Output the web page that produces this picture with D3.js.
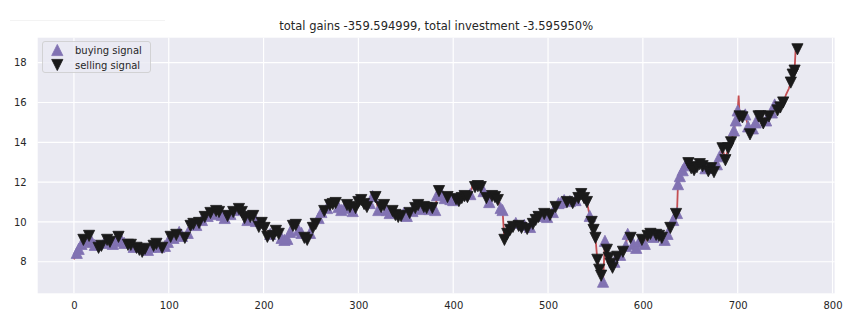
<!DOCTYPE html>
<html>
<head>
<meta charset="utf-8">
<script src="https://cdn.jsdelivr.net/npm/d3@7"></script>
<style>
  body { margin: 0; background: #fff; }
  text { font-family: "DejaVu Sans", sans-serif; fill: #262626; }
</style>
</head>
<body>
<svg id="chart"></svg>
<script>
// price samples (trading day, close)
var days = [0, 3, 5, 8, 10, 13, 16, 19, 22, 26, 29, 32, 35, 38, 41, 44, 47, 50, 53, 57,
  60, 63, 66, 69, 72, 75, 78, 81, 84, 87, 90, 93, 96, 99, 102, 105, 108, 111, 114, 117,
  120, 123, 126, 129, 132, 135, 138, 141, 144, 147, 150, 153, 156, 159, 162, 165, 168, 171, 174, 177,
  180, 183, 186, 189, 192, 195, 198, 201, 204, 207, 210, 213, 216, 219, 222, 225, 228, 231, 234, 237,
  240, 243, 246, 249, 252, 255, 258, 261, 264, 267, 270, 273, 276, 279, 282, 285, 288, 291, 294, 297,
  300, 303, 306, 309, 312, 315, 318, 321, 324, 327, 330, 333, 336, 339, 342, 345, 348, 351, 354, 357,
  360, 363, 366, 369, 372, 375, 378, 381, 383, 385, 388, 391, 394, 397, 400, 403, 406, 409, 412, 415,
  418, 421, 423, 426, 429, 432, 435, 438, 441, 444, 447, 450, 452, 454, 457, 460, 463, 466, 469, 472,
  475, 478, 481, 484, 487, 490, 493, 496, 499, 502, 505, 508, 511, 514, 517, 520, 523, 526, 529, 532,
  535, 538, 541, 544, 546, 548, 550, 552, 554, 556, 558, 560, 562, 564, 566, 568, 570, 573, 576, 579,
  582, 584, 587, 590, 593, 596, 599, 602, 605, 608, 611, 614, 617, 620, 623, 626, 629, 632, 635, 636,
  637, 639, 642, 645, 648, 651, 654, 657, 660, 663, 666, 669, 672, 675, 678, 681, 684, 687, 690, 693,
  696, 698, 700, 701, 702, 705, 708, 711, 713, 716, 719, 722, 724, 727, 730, 733, 736, 739, 742, 745,
  748, 751, 754, 756, 758, 760, 761, 763];
var close = [8.12, 8.45, 8.65, 8.9, 9.1, 9.05, 9.3, 9.0, 8.85, 8.7, 8.8, 8.95, 9.1, 9.0, 8.9, 9.05, 9.25, 9.1, 8.95, 8.85,
  8.85, 8.75, 8.7, 8.6, 8.5, 8.65, 8.6, 8.75, 8.8, 8.9, 8.75, 8.7, 8.8, 9.0, 9.25, 9.2, 9.35, 9.5, 9.3, 9.2,
  9.45, 9.8, 9.9, 9.85, 9.95, 10.1, 10.25, 10.3, 10.45, 10.4, 10.55, 10.5, 10.35, 10.2, 10.3, 10.4, 10.5, 10.6, 10.65, 10.5,
  10.2, 10.1, 10.25, 10.3, 10.05, 9.75, 9.95, 9.7, 9.25, 9.4, 9.3, 9.55, 9.4, 9.2, 9.1, 9.15, 9.5, 9.8, 9.85, 9.6,
  9.45, 9.2, 9.1, 9.45, 9.7, 9.9, 10.2, 10.5, 10.55, 10.7, 10.85, 10.9, 10.95, 10.75, 10.6, 10.7, 10.85, 10.75, 10.55, 10.7,
  11.0, 11.1, 10.9, 10.75, 10.95, 11.3, 11.25, 10.6, 10.75, 10.85, 10.6, 10.45, 10.55, 10.35, 10.25, 10.3, 10.45, 10.3, 10.45, 10.55,
  10.7, 10.85, 10.65, 10.75, 10.7, 10.65, 10.7, 10.6, 11.35, 11.55, 11.4, 11.2, 11.25, 11.15, 11.1, 11.15, 11.05, 11.2, 11.3, 11.25,
  11.4, 11.95, 11.75, 11.8, 11.75, 11.55, 11.2, 11.0, 11.3, 11.25, 11.1, 10.7, 10.6, 9.1, 9.4, 9.6, 9.75, 9.95, 9.8, 9.7,
  9.85, 9.65, 9.75, 9.9, 10.1, 10.25, 10.3, 10.4, 10.25, 10.35, 10.5, 10.75, 10.95, 11.0, 11.1, 11.0, 11.05, 10.95, 11.1, 11.2,
  11.4, 11.2, 11.0, 10.3, 10.0, 9.6, 9.2, 8.1, 7.6, 7.3, 7.0, 9.05, 8.6, 8.2, 7.9, 7.7, 8.0, 8.25, 8.35, 8.5,
  8.8, 9.4, 9.2, 8.9, 8.7, 9.0, 9.1, 8.9, 9.3, 9.4, 9.25, 9.35, 9.3, 9.2, 9.1, 9.4, 9.7, 10.1, 10.4, 10.45,
  11.9, 12.3, 12.6, 12.85, 12.95, 12.7, 12.6, 12.75, 12.9, 12.8, 12.7, 12.55, 12.7, 12.5, 12.9, 13.3, 13.7, 13.1, 13.7, 14.0,
  14.6, 15.1, 15.6, 16.35, 15.3, 15.25, 15.4, 14.8, 14.4, 14.7, 15.0, 15.3, 15.3, 14.95, 15.1, 15.3, 15.5, 15.9, 15.6, 15.75,
  16.0, 16.4, 16.7, 17.0, 17.4, 17.6, 18.6, 18.67];

// signal days
var buyDays = [3, 5, 8, 13, 19, 22, 32, 41, 44, 50, 53, 63, 78, 81, 90, 96, 99, 105, 111, 114,
  120, 129, 135, 141, 147, 156, 159, 165, 171, 183, 192, 207, 219, 222, 225, 228, 237, 240, 249, 258,
  261, 267, 279, 282, 285, 294, 312, 315, 321, 330, 333, 348, 351, 357, 366, 375, 381, 383, 388, 391,
  397, 400, 418, 432, 438, 450, 452, 466, 475, 481, 493, 499, 505, 511, 514, 517, 523, 529, 544, 558,
  560, 570, 576, 582, 584, 590, 593, 596, 602, 611, 623, 626, 632, 636, 637, 639, 642, 645, 666, 678,
  681, 696, 698, 700, 708, 711, 716, 719, 730, 736, 739];
var sellDays = [10, 16, 26, 29, 35, 38, 47, 57, 60, 66, 69, 72, 75, 84, 87, 93, 102, 108, 117, 123,
  126, 132, 138, 144, 150, 153, 162, 168, 174, 177, 180, 186, 189, 195, 198, 201, 204, 210, 213, 216,
  231, 234, 243, 246, 252, 255, 264, 270, 273, 276, 288, 291, 297, 300, 303, 306, 309, 318, 324, 327,
  336, 339, 342, 345, 354, 360, 363, 369, 372, 378, 385, 394, 403, 406, 409, 412, 415, 423, 426, 429,
  435, 441, 444, 447, 454, 457, 460, 463, 469, 472, 478, 484, 487, 490, 496, 502, 508, 520, 526, 532,
  535, 538, 541, 546, 548, 550, 552, 554, 556, 562, 564, 566, 568, 573, 579, 587, 599, 605, 608, 614,
  617, 620, 629, 635, 648, 651, 654, 657, 660, 663, 669, 672, 675, 684, 687, 690, 693, 702, 705, 713,
  722, 724, 727, 733, 742, 745, 748, 756, 758, 760, 763];

var xTicks = [0, 100, 200, 300, 400, 500, 600, 700, 800];
var yTicks = [8, 10, 12, 14, 16, 18];
var title = "total gains -359.594999, total investment -3.595950%";

var width = 861, height = 335;
var m = { left: 37.7, right: 834.6, top: 37.7, bottom: 293.3 };

var svg = d3.select("#chart").attr("width", width).attr("height", height);

var points = days.map(function (d, i) { return [d, close[i]]; });
var byDay = new Map(points);

var xExt = [0, 764];
var xPad = (xExt[1] - xExt[0]) * 0.05;
var x = d3.scaleLinear().domain([xExt[0] - xPad, xExt[1] + xPad]).range([m.left, m.right]);
var yExt = d3.extent(close);
var yPad = (yExt[1] - yExt[0]) * 0.05;
var y = d3.scaleLinear().domain([yExt[0] - yPad, yExt[1] + yPad]).range([m.bottom, m.top]);

// faint stray line above the chart
svg.append("line")
  .attr("x1", 10).attr("x2", 165).attr("y1", 20.5).attr("y2", 20.5)
  .attr("stroke", "#f3f3f3").attr("stroke-width", 1);

svg.append("rect")
  .attr("x", m.left).attr("y", m.top)
  .attr("width", m.right - m.left).attr("height", m.bottom - m.top)
  .attr("fill", "#eaeaf2");

var grid = svg.append("g").attr("stroke", "#fff").attr("stroke-width", 1.2);
grid.selectAll(".gx").data(xTicks).enter().append("line")
  .attr("x1", function (d) { return x(d); }).attr("x2", function (d) { return x(d); })
  .attr("y1", m.top).attr("y2", m.bottom);
grid.selectAll(".gy").data(yTicks).enter().append("line")
  .attr("y1", function (d) { return y(d); }).attr("y2", function (d) { return y(d); })
  .attr("x1", m.left).attr("x2", m.right);

var xAxis = svg.append("g")
  .attr("transform", "translate(0," + m.bottom + ")")
  .call(d3.axisBottom(x).tickValues(xTicks).tickSize(0).tickPadding(9));
var yAxis = svg.append("g")
  .attr("transform", "translate(" + m.left + ",0)")
  .call(d3.axisLeft(y).tickValues(yTicks).tickSize(0).tickPadding(11));
[xAxis, yAxis].forEach(function (a) {
  a.select(".domain").remove();
  a.selectAll("text").attr("font-size", 10).attr("fill", "#333")
    .attr("font-family", "DejaVu Sans, sans-serif");
});

svg.append("path")
  .datum(points)
  .attr("d", d3.line().x(function (d) { return x(d[0]); }).y(function (d) { return y(d[1]); }))
  .attr("fill", "none")
  .attr("stroke", "#c44e52")
  .attr("stroke-width", 1.8);

var s = 5.6;
var up = "M0," + (-s) + "L" + (-s) + "," + s + "L" + s + "," + s + "Z";
var down = "M0," + s + "L" + (-s) + "," + (-s) + "L" + s + "," + (-s) + "Z";

svg.append("g").selectAll("path").data(buyDays.filter(function (d) { return byDay.has(d); }))
  .enter().append("path")
  .attr("d", up)
  .attr("transform", function (d) { return "translate(" + x(d) + "," + y(byDay.get(d)) + ")"; })
  .attr("fill", "#8172b2").attr("stroke", "#8172b2").attr("stroke-width", 0.8);

svg.append("g").selectAll("path").data(sellDays.filter(function (d) { return byDay.has(d); }))
  .enter().append("path")
  .attr("d", down)
  .attr("transform", function (d) { return "translate(" + x(d) + "," + y(byDay.get(d)) + ")"; })
  .attr("fill", "#1a1a1a").attr("stroke", "#1a1a1a").attr("stroke-width", 0.8);

svg.append("text")
  .attr("x", (m.left + m.right) / 2).attr("y", 30)
  .attr("text-anchor", "middle")
  .attr("font-size", 11.5)
  .text(title);

// legend
var lg = svg.append("g");
lg.append("rect")
  .attr("x", 42.5).attr("y", 41.5).attr("width", 108).attr("height", 31)
  .attr("rx", 2.5)
  .attr("fill", "#eaeaf2").attr("fill-opacity", 0.8)
  .attr("stroke", "#cccccc").attr("stroke-width", 0.8);
var items = [
  { label: "buying signal", path: up, color: "#8172b2" },
  { label: "selling signal", path: down, color: "#1a1a1a" }
];
items.forEach(function (it, i) {
  var cy = 50 + i * 15;
  lg.append("path").attr("d", it.path)
    .attr("transform", "translate(57.3," + cy + ")")
    .attr("fill", it.color).attr("stroke", it.color).attr("stroke-width", 0.8);
  lg.append("text").attr("x", 75).attr("y", cy).attr("dy", "0.35em")
    .attr("font-size", 10).text(it.label);
});
</script>
</body>
</html>
